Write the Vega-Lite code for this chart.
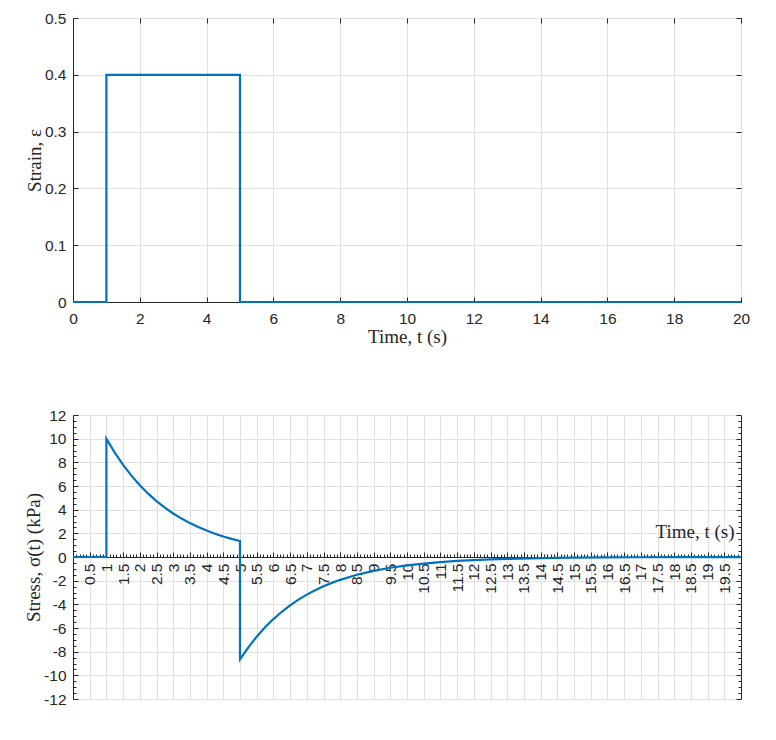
{
  "$schema": "https://vega.github.io/schema/vega-lite/v6.json",
  "padding": {"top": 10, "left": 24, "right": 5, "bottom": 5},
  "spacing": 60,
  "datasets": {
    "strain": [
      {"i": 0, "t": 0, "e": 0},
      {"i": 1, "t": 1, "e": 0},
      {"i": 2, "t": 1, "e": 0.4},
      {"i": 3, "t": 5, "e": 0.4},
      {"i": 4, "t": 5, "e": 0},
      {"i": 5, "t": 20, "e": 0}
    ],
    "stress": [
      {"i": 0, "t": 0, "s": 0},
      {"i": 1, "t": 1, "s": 0},
      {"i": 2, "t": 1, "s": 10},
      {"i": 3, "t": 1.25, "s": 8.825},
      {"i": 4, "t": 1.5, "s": 7.788},
      {"i": 5, "t": 1.75, "s": 6.873},
      {"i": 6, "t": 2, "s": 6.065},
      {"i": 7, "t": 2.25, "s": 5.353},
      {"i": 8, "t": 2.5, "s": 4.724},
      {"i": 9, "t": 2.75, "s": 4.169},
      {"i": 10, "t": 3, "s": 3.679},
      {"i": 11, "t": 3.25, "s": 3.247},
      {"i": 12, "t": 3.5, "s": 2.865},
      {"i": 13, "t": 3.75, "s": 2.528},
      {"i": 14, "t": 4, "s": 2.231},
      {"i": 15, "t": 4.25, "s": 1.969},
      {"i": 16, "t": 4.5, "s": 1.738},
      {"i": 17, "t": 4.75, "s": 1.534},
      {"i": 18, "t": 5, "s": 1.353},
      {"i": 19, "t": 5, "s": -8.647},
      {"i": 20, "t": 5.25, "s": -7.631},
      {"i": 21, "t": 5.5, "s": -6.734},
      {"i": 22, "t": 5.75, "s": -5.943},
      {"i": 23, "t": 6, "s": -5.245},
      {"i": 24, "t": 6.25, "s": -4.629},
      {"i": 25, "t": 6.5, "s": -4.085},
      {"i": 26, "t": 6.75, "s": -3.605},
      {"i": 27, "t": 7, "s": -3.181},
      {"i": 28, "t": 7.25, "s": -2.808},
      {"i": 29, "t": 7.5, "s": -2.477},
      {"i": 30, "t": 7.75, "s": -2.186},
      {"i": 31, "t": 8, "s": -1.929},
      {"i": 32, "t": 8.5, "s": -1.503},
      {"i": 33, "t": 9, "s": -1.17},
      {"i": 34, "t": 9.5, "s": -0.911},
      {"i": 35, "t": 10, "s": -0.71},
      {"i": 36, "t": 10.5, "s": -0.553},
      {"i": 37, "t": 11, "s": -0.43},
      {"i": 38, "t": 11.5, "s": -0.335},
      {"i": 39, "t": 12, "s": -0.261},
      {"i": 40, "t": 12.5, "s": -0.203},
      {"i": 41, "t": 13, "s": -0.158},
      {"i": 42, "t": 14, "s": -0.096},
      {"i": 43, "t": 15, "s": -0.058},
      {"i": 44, "t": 16, "s": -0.035},
      {"i": 45, "t": 17, "s": -0.021},
      {"i": 46, "t": 18, "s": -0.013},
      {"i": 47, "t": 19, "s": -0.008},
      {"i": 48, "t": 20, "s": -0.005}
    ]
  },
  "config": {
    "view": {"stroke": "#262626", "strokeWidth": 1},
    "axis": {
      "labelFont": "Liberation Sans",
      "labelFontSize": 15.5,
      "labelColor": "#262626",
      "titleFont": "Liberation Serif",
      "titleFontSize": 19,
      "titleFontWeight": "normal",
      "titleColor": "#262626",
      "tickColor": "#262626",
      "domainColor": "#262626",
      "gridColor": "#e0e0e0",
      "labelFlush": false,
      "labelOverlap": false,
      "labelBound": false
    }
  },
  "vconcat": [
    {
      "width": 668,
      "height": 284,
      "resolve": {"axis": {"x": "independent", "y": "independent"}},
      "layer": [
        {
          "data": {"name": "strain"},
          "mark": {"type": "line", "color": "#0072BD", "strokeWidth": 2.2},
          "encoding": {
            "x": {"field": "t", "type": "quantitative", "scale": {"domain": [0, 20], "nice": false, "zero": false},
              "axis": {"orient": "bottom", "values": [0, 2, 4, 6, 8, 10, 12, 14, 16, 18, 20], "grid": true, "tickSize": -5, "labelPadding": 14, "labelExpr": "'' + datum.value", "title": "Time, t (s)", "titlePadding": 1}},
            "y": {"field": "e", "type": "quantitative", "scale": {"domain": [0, 0.5], "nice": false},
              "axis": {"orient": "left", "values": [0, 0.1, 0.2, 0.3, 0.4, 0.5], "grid": true, "tickSize": -5, "labelPadding": 12, "labelExpr": "'' + datum.value", "title": "Strain, ε", "titlePadding": 0}},
            "order": {"field": "i", "type": "quantitative"}
          }
        },
        {
          "data": {"name": "strain"},
          "mark": {"type": "line", "opacity": 0},
          "encoding": {
            "x": {"field": "t", "type": "quantitative", "scale": {"domain": [0, 20], "nice": false, "zero": false},
              "axis": {"orient": "top", "values": [0, 2, 4, 6, 8, 10, 12, 14, 16, 18, 20], "grid": false, "labels": false, "domain": false, "tickSize": -5, "title": null}},
            "y": {"field": "e", "type": "quantitative", "scale": {"domain": [0, 0.5], "nice": false},
              "axis": {"orient": "right", "values": [0, 0.1, 0.2, 0.3, 0.4, 0.5], "grid": false, "labels": false, "domain": false, "tickSize": -5, "title": null}}
          }
        }
      ]
    },
    {
      "width": 668,
      "height": 284,
      "resolve": {"axis": {"x": "independent", "y": "independent"}},
      "layer": [
        {
          "data": {"name": "stress"},
          "mark": {"type": "line", "color": "#0072BD", "strokeWidth": 2.2},
          "encoding": {
            "x": {"field": "t", "type": "quantitative", "scale": {"domain": [0, 20], "nice": false, "zero": false},
              "axis": {"orient": "bottom", "offset": -142, "values": [0.5,1,1.5,2,2.5,3,3.5,4,4.5,5,5.5,6,6.5,7,7.5,8,8.5,9,9.5,10,10.5,11,11.5,12,12.5,13,13.5,14,14.5,15,15.5,16,16.5,17,17.5,18,18.5,19,19.5],
                "grid": true, "tickSize": -5, "labelAngle": 270, "labelPadding": 11, "labelExpr": "'' + datum.value",
                "title": "Time, t (s)", "titleX": 661, "titleY": -20, "titleAlign": "right", "titleBaseline": "alphabetic"}},
            "y": {"field": "s", "type": "quantitative", "scale": {"domain": [-12, 12], "nice": false, "zero": false},
              "axis": {"orient": "left", "values": [-12,-10,-8,-6,-4,-2,0,2,4,6,8,10,12], "grid": true, "tickSize": -5, "labelPadding": 12, "labelExpr": "'' + datum.value", "title": "Stress, σ(t) (kPa)", "titlePadding": 0}},
            "order": {"field": "i", "type": "quantitative"}
          }
        },
        {
          "data": {"name": "stress"},
          "mark": {"type": "line", "opacity": 0},
          "encoding": {
            "x": {"field": "t", "type": "quantitative", "scale": {"domain": [0, 20], "nice": false, "zero": false},
              "axis": {"orient": "bottom", "offset": -142, "values": [0.1,0.2,0.3,0.4,0.6,0.7,0.8,0.9,1.1,1.2,1.3,1.4,1.6,1.7,1.8,1.9,2.1,2.2,2.3,2.4,2.6,2.7,2.8,2.9,3.1,3.2,3.3,3.4,3.6,3.7,3.8,3.9,4.1,4.2,4.3,4.4,4.6,4.7,4.8,4.9,5.1,5.2,5.3,5.4,5.6,5.7,5.8,5.9,6.1,6.2,6.3,6.4,6.6,6.7,6.8,6.9,7.1,7.2,7.3,7.4,7.6,7.7,7.8,7.9,8.1,8.2,8.3,8.4,8.6,8.7,8.8,8.9,9.1,9.2,9.3,9.4,9.6,9.7,9.8,9.9,10.1,10.2,10.3,10.4,10.6,10.7,10.8,10.9,11.1,11.2,11.3,11.4,11.6,11.7,11.8,11.9,12.1,12.2,12.3,12.4,12.6,12.7,12.8,12.9,13.1,13.2,13.3,13.4,13.6,13.7,13.8,13.9,14.1,14.2,14.3,14.4,14.6,14.7,14.8,14.9,15.1,15.2,15.3,15.4,15.6,15.7,15.8,15.9,16.1,16.2,16.3,16.4,16.6,16.7,16.8,16.9,17.1,17.2,17.3,17.4,17.6,17.7,17.8,17.9,18.1,18.2,18.3,18.4,18.6,18.7,18.8,18.9,19.1,19.2,19.3,19.4,19.6,19.7,19.8,19.9],
                "grid": false, "labels": false, "domain": false, "tickSize": -3, "title": null}},
            "y": {"field": "s", "type": "quantitative", "scale": {"domain": [-12, 12], "nice": false, "zero": false},
              "axis": {"orient": "left", "values": [-11.5,-11,-10.5,-9.5,-9,-8.5,-7.5,-7,-6.5,-5.5,-5,-4.5,-3.5,-3,-2.5,-1.5,-1,-0.5,0.5,1,1.5,2.5,3,3.5,4.5,5,5.5,6.5,7,7.5,8.5,9,9.5,10.5,11,11.5],
                "grid": false, "labels": false, "domain": false, "tickSize": -3, "title": null}}
          }
        },
        {
          "data": {"name": "stress"},
          "mark": {"type": "line", "opacity": 0},
          "encoding": {
            "x": {"field": "t", "type": "quantitative", "scale": {"domain": [0, 20], "nice": false, "zero": false}, "axis": null},
            "y": {"field": "s", "type": "quantitative", "scale": {"domain": [-12, 12], "nice": false, "zero": false},
              "axis": {"orient": "right", "values": [-12,-10,-8,-6,-4,-2,0,2,4,6,8,10,12], "grid": false, "labels": false, "domain": false, "tickSize": -5, "title": null}}
          }
        },
        {
          "data": {"name": "stress"},
          "mark": {"type": "line", "opacity": 0},
          "encoding": {
            "x": {"field": "t", "type": "quantitative", "scale": {"domain": [0, 20], "nice": false, "zero": false}, "axis": null},
            "y": {"field": "s", "type": "quantitative", "scale": {"domain": [-12, 12], "nice": false, "zero": false},
              "axis": {"orient": "right", "values": [-11.5,-11,-10.5,-9.5,-9,-8.5,-7.5,-7,-6.5,-5.5,-5,-4.5,-3.5,-3,-2.5,-1.5,-1,-0.5,0.5,1,1.5,2.5,3,3.5,4.5,5,5.5,6.5,7,7.5,8.5,9,9.5,10.5,11,11.5],
                "grid": false, "labels": false, "domain": false, "tickSize": -3, "title": null}}
          }
        }
      ]
    }
  ]
}
